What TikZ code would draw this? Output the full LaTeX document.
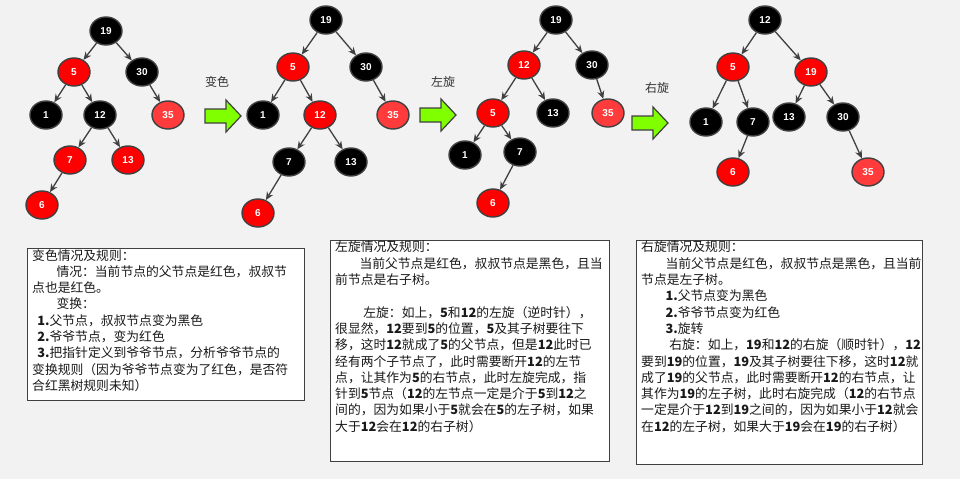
\documentclass[tikz,border=0pt]{standalone}
\usepackage{fontspec}
\setmainfont{Liberation Sans}
\newfontfamily\cjk{Noto Sans CJK SC}
\usetikzlibrary{arrows.meta}
\definecolor{bg}{HTML}{F2F2F2}
\definecolor{rd}{HTML}{FF0000}
\definecolor{lrd}{HTML}{FF3B3B}
\definecolor{edge}{HTML}{404040}
\definecolor{grn}{HTML}{80FF00}
\tikzset{
 rb/.style={ellipse,minimum width=32pt,minimum height=28pt,inner sep=0pt,draw=edge,line width=1.4pt,text=white,font=\bfseries\fontsize{10}{10}\selectfont},
 bn/.style={rb,fill=black},
 rn/.style={rb,fill=rd},
 ln/.style={rb,fill=lrd},
 ed/.style={-{Stealth[length=8pt,width=7pt]},draw=edge,line width=1.3pt},
 bigarrow/.style={fill=grn,draw=edge,line width=1.2pt},
 lab/.style={font=\cjk\fontsize{12}{12}\selectfont,text=black!80},
 box/.style={draw=edge,line width=1pt,fill=white},
 btext/.style={anchor=north west,align=left,inner sep=0pt,font=\cjk\fontsize{12.8}{16.3}\selectfont,text=black!90}
}
\usetikzlibrary{shapes.geometric}
\begin{document}
\begin{tikzpicture}[x=1pt,y=-1pt]
\useasboundingbox (0,0) rectangle (960,479);
\fill[bg] (0,0) rectangle (960,479);
% tree 1
\node[bn] (a19) at (106,31) {19};
\node[rn] (a5) at (74,72) {5};
\node[bn] (a30) at (142,72) {30};
\node[bn] (a1) at (46,115) {1};
\node[bn] (a12) at (100,115) {12};
\node[ln] (a35) at (168,115) {35};
\node[rn] (a7) at (70,160) {7};
\node[rn] (a13) at (128,160) {13};
\node[rn] (a6) at (42,205) {6};
\draw[ed] (a19)--(a5); \draw[ed] (a19)--(a30); \draw[ed] (a5)--(a1); \draw[ed] (a5)--(a12);
\draw[ed] (a30)--(a35); \draw[ed] (a12)--(a7); \draw[ed] (a12)--(a13); \draw[ed] (a7)--(a6);
% tree 2
\node[bn] (b19) at (326,20) {19};
\node[rn] (b5) at (293,67) {5};
\node[bn] (b30) at (366,67) {30};
\node[bn] (b1) at (263,115) {1};
\node[rn] (b12) at (320,115) {12};
\node[ln] (b35) at (393,115) {35};
\node[bn] (b7) at (289,162) {7};
\node[bn] (b13) at (351,162) {13};
\node[rn] (b6) at (258,213) {6};
\draw[ed] (b19)--(b5); \draw[ed] (b19)--(b30); \draw[ed] (b5)--(b1); \draw[ed] (b5)--(b12);
\draw[ed] (b30)--(b35); \draw[ed] (b12)--(b7); \draw[ed] (b12)--(b13); \draw[ed] (b7)--(b6);
% tree 3
\node[bn] (c19) at (556,20) {19};
\node[rn] (c12) at (524,65) {12};
\node[bn] (c30) at (592,65) {30};
\node[rn] (c5) at (493,113) {5};
\node[bn] (c13) at (553,113) {13};
\node[ln] (c35) at (608,113) {35};
\node[bn] (c1) at (465,155) {1};
\node[bn] (c7) at (520,152) {7};
\node[rn] (c6) at (493,203) {6};
\draw[ed] (c19)--(c12); \draw[ed] (c19)--(c30); \draw[ed] (c12)--(c5); \draw[ed] (c12)--(c13);
\draw[ed] (c30)--(c35); \draw[ed] (c5)--(c1); \draw[ed] (c5)--(c7); \draw[ed] (c7)--(c6);
% tree 4
\node[bn] (d12) at (765,20) {12};
\node[rn] (d5) at (733,67) {5};
\node[rn] (d19) at (811,72) {19};
\node[bn] (d1) at (706,122) {1};
\node[bn] (d7) at (753,122) {7};
\node[bn] (d13) at (789,117) {13};
\node[bn] (d30) at (843,117) {30};
\node[rn] (d6) at (733,172) {6};
\node[ln] (d35) at (868,172) {35};
\draw[ed] (d12)--(d5); \draw[ed] (d12)--(d19); \draw[ed] (d5)--(d1); \draw[ed] (d5)--(d7);
\draw[ed] (d19)--(d13); \draw[ed] (d19)--(d30); \draw[ed] (d7)--(d6); \draw[ed] (d30)--(d35);
% block arrows
\foreach \x/\y in {205/116, 420/115, 632/123}{
 \draw[bigarrow] (\x,\y-7) -- (\x+21,\y-7) -- (\x+21,\y-16) -- (\x+36,\y) -- (\x+21,\y+16) -- (\x+21,\y+7) -- (\x,\y+7) -- cycle;
}
\node[lab] (l1) at (217,82) {变色};
\node[lab] (l2) at (443,82) {左旋};
\node[lab] (l3) at (657,88) {右旋};
% boxes
\draw[box] (27,248) rectangle (304,400);
\node[btext] (t1) at (32,249) {变色情况及规则：\\
\hspace*{1.9em}情况：当前节点的父节点是红色，叔叔节\\
点也是红色。\\
\hspace*{1.9em}变换：\\
\hspace*{0.4em}\textbf{1.}父节点，叔叔节点变为黑色\\
\hspace*{0.4em}\textbf{2.}爷爷节点，变为红色\\
\hspace*{0.4em}\textbf{3.}把指针定义到爷爷节点，分析爷爷节点的\\
变换规则（因为爷爷节点变为了红色，是否符\\
合红黑树规则未知）};
\draw[box] (330,240) rectangle (609,461);
\node[btext] (t2) at (335,241) {左旋情况及规则：\\
\hspace*{1.9em}当前父节点是红色，叔叔节点是黑色，且当\\
前节点是右子树。\\
\\
\hspace*{2.2em}左旋：如上，\textbf{5}和\textbf{12}的左旋（逆时针），\\
很显然，\textbf{12}要到\textbf{5}的位置，\textbf{5}及其子树要往下\\
移，这时\textbf{12}就成了\textbf{5}的父节点，但是\textbf{12}此时已\\
经有两个子节点了，此时需要断开\textbf{12}的左节\\
点，让其作为\textbf{5}的右节点，此时左旋完成，指\\
针到\textbf{5}节点（\textbf{12}的左节点一定是介于\textbf{5}到\textbf{12}之\\
间的，因为如果小于\textbf{5}就会在\textbf{5}的左子树，如果\\
大于\textbf{12}会在\textbf{12}的右子树）};
\draw[box] (636,240) rectangle (922,464);
\node[btext] (t3) at (641,241) {右旋情况及规则：\\
\hspace*{1.9em}当前父节点是红色，叔叔节点是黑色，且当前\\
节点是左子树。\\
\hspace*{1.9em}\textbf{1.}父节点变为黑色\\
\hspace*{1.9em}\textbf{2.}爷爷节点变为红色\\
\hspace*{1.9em}\textbf{3.}旋转\\
\hspace*{2.2em}右旋：如上，\textbf{19}和\textbf{12}的右旋（顺时针），\textbf{12}\\
要到\textbf{19}的位置，\textbf{19}及其子树要往下移，这时\textbf{12}就\\
成了\textbf{19}的父节点，此时需要断开\textbf{12}的右节点，让\\
其作为\textbf{19}的左子树，此时右旋完成（\textbf{12}的右节点\\
一定是介于\textbf{12}到\textbf{19}之间的，因为如果小于\textbf{12}就会\\
在\textbf{12}的左子树，如果大于\textbf{19}会在\textbf{19}的右子树）};
\end{tikzpicture}
\end{document}
